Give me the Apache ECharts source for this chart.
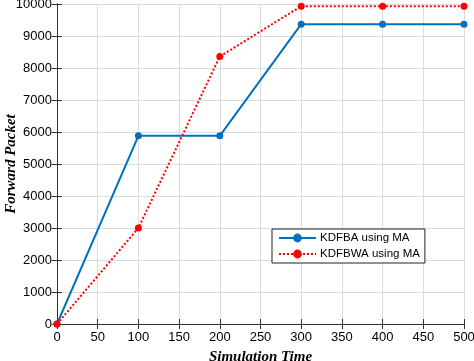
<!DOCTYPE html>
<html><head><meta charset="utf-8">
<script src="https://cdn.jsdelivr.net/npm/echarts@6/dist/echarts.min.js"></script>
<style>html,body{margin:0;padding:0;background:#fff}#c{width:474px;height:361px}</style>
</head><body><div id="c"></div>
<script>
const xValues = [0, 100, 200, 300, 400, 500];
const kdfba = [0, 5880, 5880, 9370, 9370, 9370];
const kdfbwa = [0, 3000, 8360, 9930, 9930, 9930];
const seriesNames = ['KDFBA using MA', 'KDFBWA using MA'];

const chart = echarts.init(document.getElementById('c'));
const tickFont = {fontFamily: 'Liberation Sans, Arial', fontSize: 13, color: '#000'};
const titleFont = {fontFamily: 'Liberation Serif, Times New Roman', fontSize: 15, fontWeight: 'bold', fontStyle: 'italic', color: '#000'};
const gridLine = {show: true, lineStyle: {color: '#dcdcdc', width: 1}};
chart.setOption({
  animation: false,
  grid: {left: 57, top: 4, right: 10, bottom: 37, containLabel: false, outerBoundsMode: 'none'},
  legend: {
    left: 272, top: 229, orient: 'vertical',
    backgroundColor: '#fff', borderColor: '#222', borderWidth: 1,
    padding: [3, 5, 3, 6], itemGap: 4, itemWidth: 37, itemHeight: 11,
    textStyle: {fontFamily: 'Liberation Sans, Arial', fontSize: 11.5, color: '#000', padding: [0, 0, 0, -1]},
    data: seriesNames
  },
  xAxis: [{
    type: 'value', min: 0, max: 500, interval: 50,
    name: 'Simulation Time', nameLocation: 'middle', nameGap: 26, nameTextStyle: titleFont,
    nameMoveOverlap: false,
    axisLine: {lineStyle: {color: '#333', width: 1}},
    axisTick: {inside: true, length: 5, lineStyle: {color: '#333'}},
    axisLabel: Object.assign({margin: 7, formatter: v => String(v)}, tickFont),
    splitLine: gridLine
  }, {
    type: 'value', min: 0, max: 500, interval: 50, position: 'top',
    axisLine: {show: true, lineStyle: {color: '#333', width: 1}},
    axisTick: {inside: true, length: 5, lineStyle: {color: '#333'}},
    axisLabel: {show: false}, splitLine: {show: false}
  }],
  yAxis: [{
    type: 'value', min: 0, max: 10000, interval: 1000,
    name: 'Forward Packet', nameLocation: 'middle', nameGap: 38, nameTextStyle: titleFont,
    nameMoveOverlap: false,
    axisLine: {show: true, lineStyle: {color: '#333', width: 1}},
    axisTick: {show: true, inside: true, length: 5, lineStyle: {color: '#333'}},
    axisLabel: Object.assign({margin: 5, formatter: v => String(v)}, tickFont),
    splitLine: gridLine
  }, {
    type: 'value', min: 0, max: 10000, interval: 1000, position: 'right',
    axisLine: {show: true, lineStyle: {color: '#333', width: 1}},
    axisTick: {show: true, inside: true, length: 5, lineStyle: {color: '#333'}},
    axisLabel: {show: false}, splitLine: {show: false}
  }],
  series: [{
    name: seriesNames[0], type: 'line',
    data: xValues.map((x, i) => [x, kdfba[i]]),
    symbol: 'circle', symbolSize: 7,
    lineStyle: {color: '#0072BD', width: 2}, itemStyle: {color: '#0072BD'}
  }, {
    name: seriesNames[1], type: 'line',
    data: xValues.map((x, i) => [x, kdfbwa[i]]),
    symbol: 'circle', symbolSize: 7,
    lineStyle: {color: '#FF0000', width: 2, type: [2, 2]}, itemStyle: {color: '#FF0000'}
  }]
});
</script></body></html>
